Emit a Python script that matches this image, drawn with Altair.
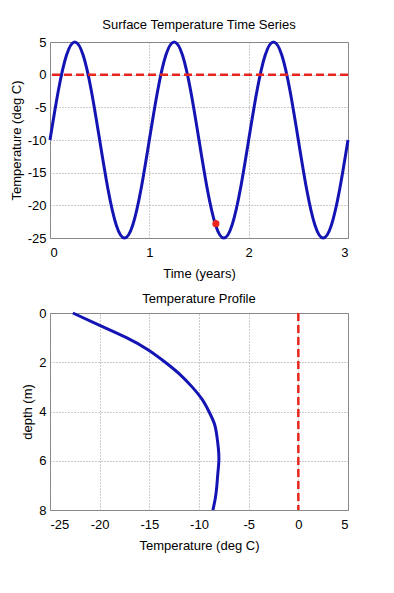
import altair as alt
import pandas as pd

# Surface temperature time series (monthly samples)
time_years = [0, 1/12, 2/12, 3/12, 4/12, 5/12, 6/12, 7/12, 8/12, 9/12, 10/12, 11/12,
              1, 13/12, 14/12, 15/12, 16/12, 17/12, 18/12, 19/12, 20/12, 21/12, 22/12, 23/12,
              2, 25/12, 26/12, 27/12, 28/12, 29/12, 30/12, 31/12, 32/12, 33/12, 34/12, 35/12, 3]
surface_temp = [-10, -2.5, 3.0, 5, 3.0, -2.5, -10, -17.5, -23.0, -25, -23.0, -17.5,
                -10, -2.5, 3.0, 5, 3.0, -2.5, -10, -17.5, -23.0, -25, -23.0, -17.5,
                -10, -2.5, 3.0, 5, 3.0, -2.5, -10, -17.5, -23.0, -25, -23.0, -17.5, -10]

marker_time = [1.67]
marker_temp = [-22.8]

# Temperature profile
depth_m = [0, 0.5, 1, 1.5, 2, 2.5, 3, 3.5, 4, 4.5, 5, 5.5, 6, 6.5, 7, 7.5, 8]
profile_temp = [-22.7, -20.0, -17.3, -15.1, -13.4, -11.9, -10.7, -9.7, -9.0, -8.45,
                -8.2, -8.05, -8.0, -8.1, -8.2, -8.35, -8.6]

zero_line = [0]

time_ticks = [0, 1, 2, 3]
temp_ticks = [-25, -20, -15, -10, -5, 0, 5]
depth_ticks = [0, 2, 4, 6, 8]

BLUE = "#1414b4"
RED = "#e8261e"
FONT = "Liberation Sans"
LBL = "datum.value + ''"

ts_df = pd.DataFrame({"t": time_years, "T": surface_temp})
mk_df = pd.DataFrame({"t": marker_time, "T": marker_temp})
pr_df = pd.DataFrame({"d": depth_m, "T": profile_temp})
z_df = pd.DataFrame({"z": zero_line})

W = 298


def xaxis(vals, title):
    return alt.Axis(values=vals, tickCount=len(vals), title=title, labelExpr=LBL,
                    labelOverlap=False, labelPadding=8, titlePadding=8)


def yaxis(vals, title):
    return alt.Axis(values=vals, tickCount=len(vals), title=title, labelExpr=LBL,
                    labelOverlap=False, labelPadding=4, titlePadding=4)


xt = alt.X("t:Q", scale=alt.Scale(domain=[0, 3], nice=False), axis=xaxis(time_ticks, "Time (years)"))
yt = alt.Y("T:Q", scale=alt.Scale(domain=[-25, 5], nice=False), axis=yaxis(temp_ticks, "Temperature (deg C)"))

top_line = alt.Chart(ts_df).mark_line(color=BLUE, strokeWidth=3, interpolate="natural").encode(x=xt, y=yt)
top_zero = alt.Chart(z_df).mark_rule(color=RED, strokeWidth=2.5, strokeDash=[8, 4]).encode(y="z:Q")
top_pt = alt.Chart(mk_df).mark_point(filled=True, color=RED, size=50, opacity=1).encode(x="t:Q", y="T:Q")

top = alt.layer(top_line, top_zero, top_pt).properties(
    width=W, height=196,
    title=alt.TitleParams("Surface Temperature Time Series", fontSize=13, font=FONT,
                          fontWeight="normal", offset=4)
)

xp = alt.X("T:Q", scale=alt.Scale(domain=[-25, 5], nice=False), axis=xaxis(temp_ticks, "Temperature (deg C)"))
yp = alt.Y("d:Q", scale=alt.Scale(domain=[0, 8], nice=False, reverse=True), axis=yaxis(depth_ticks, "depth (m)"))

bot_line = alt.Chart(pr_df).mark_line(color=BLUE, strokeWidth=3, interpolate="natural").encode(
    x=xp, y=yp, order="d:Q")
bot_zero = alt.Chart(z_df).mark_rule(color=RED, strokeWidth=2.5, strokeDash=[8, 4]).encode(x="z:Q")

bottom = alt.layer(bot_line, bot_zero).properties(
    width=W, height=197,
    title=alt.TitleParams("Temperature Profile", fontSize=13, font=FONT,
                          fontWeight="normal", offset=1)
)

chart = alt.vconcat(top, bottom, spacing=11).properties(
    padding={"left": 1, "top": 10, "right": 5, "bottom": 5},
    background="white"
).configure_view(
    stroke="#808080", strokeWidth=1
).configure_axis(
    domain=False, ticks=False,
    grid=True, gridColor="#999999", gridDash=[1, 2], gridWidth=1,
    labelFont=FONT, labelFontSize=13, labelColor="black",
    titleFont=FONT, titleFontSize=13, titleFontWeight="normal", titleColor="black"
)

chart.save("out.html", embed_options={"renderer": "svg", "actions": False})
